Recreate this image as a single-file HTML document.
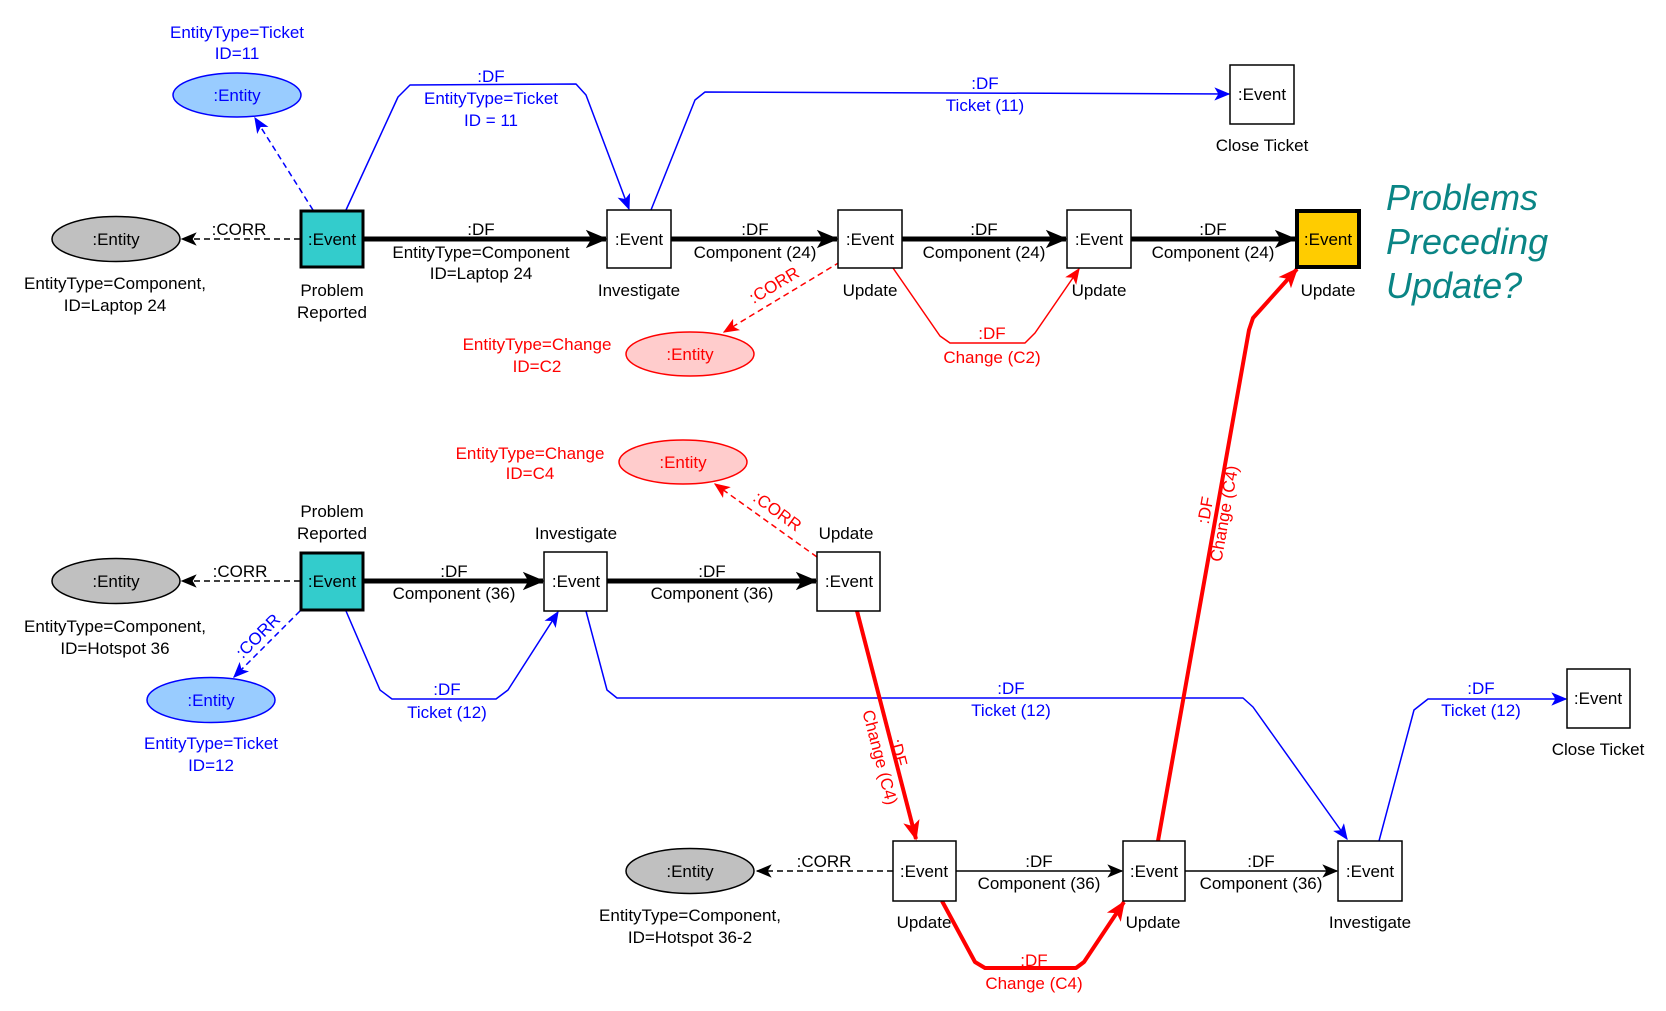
<!DOCTYPE html>
<html><head><meta charset="utf-8"><style>
html,body{margin:0;padding:0;background:#fff;}
svg{display:block;}
text{font-family:"Liberation Sans",Arial,sans-serif;font-size:17px;text-anchor:middle;}
.b{fill:#00f}.r{fill:#f00}.k{fill:#000}
</style></head><body>
<svg width="1666" height="1011" viewBox="0 0 1666 1011" xmlns="http://www.w3.org/2000/svg">
<defs>
<marker id="ak" viewBox="0 0 12 10" refX="11" refY="5" markerWidth="22" markerHeight="20" markerUnits="userSpaceOnUse" orient="auto"><path d="M0,0L12,5L0,10L3,5z" fill="#000"/></marker>
<marker id="aks" viewBox="0 0 12 10" refX="11" refY="5" markerWidth="16" markerHeight="14" markerUnits="userSpaceOnUse" orient="auto"><path d="M0,0L12,5L0,10L3,5z" fill="#000"/></marker>
<marker id="ab" viewBox="0 0 12 10" refX="11" refY="5" markerWidth="16" markerHeight="14" markerUnits="userSpaceOnUse" orient="auto"><path d="M0,0L12,5L0,10L3,5z" fill="#00f"/></marker>
<marker id="ar" viewBox="0 0 12 10" refX="11" refY="5" markerWidth="16" markerHeight="14" markerUnits="userSpaceOnUse" orient="auto"><path d="M0,0L12,5L0,10L3,5z" fill="#f00"/></marker>
<marker id="arb" viewBox="0 0 12 10" refX="11" refY="5" markerWidth="20" markerHeight="18" markerUnits="userSpaceOnUse" orient="auto"><path d="M0,0L12,5L0,10L3,5z" fill="#f00"/></marker>
</defs>

<!-- ===== Top row edges ===== -->
<!-- CORR gray 1 -->
<line x1="300" y1="239" x2="182" y2="239" stroke="#000" stroke-width="1.5" stroke-dasharray="6,4" marker-end="url(#aks)"/>
<text x="239" y="235">:CORR</text>
<!-- blue CORR dashed -->
<line x1="313" y1="210" x2="255" y2="118" stroke="#00f" stroke-width="1.5" stroke-dasharray="6,4" marker-end="url(#ab)"/>
<!-- blue DF ticket 11 -->
<polyline points="346,210 398,97 410,85 576,84 586,95 629,209" fill="none" stroke="#00f" stroke-width="1.5" stroke-linejoin="round" marker-end="url(#ab)"/>
<text class="b" x="491" y="82">:DF</text>
<text class="b" x="491" y="104">EntityType=Ticket</text>
<text class="b" x="491" y="126">ID = 11</text>
<!-- blue DF to close ticket -->
<polyline points="651,210 695,100 705,92 1229,94" fill="none" stroke="#00f" stroke-width="1.5" stroke-linejoin="round" marker-end="url(#ab)"/>
<text class="b" x="985" y="89">:DF</text>
<text class="b" x="985" y="111">Ticket (11)</text>
<!-- black DF top -->
<line x1="364" y1="239" x2="606" y2="239" stroke="#000" stroke-width="5" marker-end="url(#ak)"/>
<text x="481" y="235">:DF</text>
<text x="481" y="258">EntityType=Component</text>
<text x="481" y="279">ID=Laptop 24</text>
<line x1="671" y1="239" x2="837" y2="239" stroke="#000" stroke-width="5" marker-end="url(#ak)"/>
<text x="755" y="235">:DF</text>
<text x="755" y="258">Component (24)</text>
<line x1="902" y1="239" x2="1066" y2="239" stroke="#000" stroke-width="5" marker-end="url(#ak)"/>
<text x="984" y="235">:DF</text>
<text x="984" y="258">Component (24)</text>
<line x1="1131" y1="239" x2="1295" y2="239" stroke="#000" stroke-width="5" marker-end="url(#ak)"/>
<text x="1213" y="235">:DF</text>
<text x="1213" y="258">Component (24)</text>
<!-- red CORR C2 -->
<line x1="840" y1="262" x2="724" y2="332" stroke="#f00" stroke-width="1.5" stroke-dasharray="6,4" marker-end="url(#ar)"/>
<text class="r" transform="translate(777,290) rotate(-31)" x="0" y="0">:CORR</text>
<!-- red DF C2 -->
<polyline points="893,268 940,336 950,343 1025,343 1035,333 1079,269" fill="none" stroke="#f00" stroke-width="1.5" stroke-linejoin="round" marker-end="url(#ar)"/>
<text class="r" x="992" y="339">:DF</text>
<text class="r" x="992" y="363">Change (C2)</text>

<!-- ===== Middle row edges ===== -->
<line x1="300" y1="581" x2="182" y2="581" stroke="#000" stroke-width="1.5" stroke-dasharray="6,4" marker-end="url(#aks)"/>
<text x="240" y="577">:CORR</text>
<line x1="300" y1="611" x2="234" y2="677" stroke="#00f" stroke-width="1.5" stroke-dasharray="6,4" marker-end="url(#ab)"/>
<text class="b" transform="translate(262,640) rotate(-45)" x="0" y="0">:CORR</text>
<line x1="364" y1="581" x2="543" y2="581" stroke="#000" stroke-width="5" marker-end="url(#ak)"/>
<text x="454" y="577">:DF</text>
<text x="454" y="599">Component (36)</text>
<line x1="607" y1="581" x2="816" y2="581" stroke="#000" stroke-width="5" marker-end="url(#ak)"/>
<text x="712" y="577">:DF</text>
<text x="712" y="599">Component (36)</text>
<!-- blue ticket 12 short -->
<polyline points="346,611 380,690 392,699 496,699 508,690 558,612" fill="none" stroke="#00f" stroke-width="1.5" stroke-linejoin="round" marker-end="url(#ab)"/>
<text class="b" x="447" y="695">:DF</text>
<text class="b" x="447" y="718">Ticket (12)</text>
<!-- blue ticket 12 long -->
<polyline points="586,611 607,690 617,698 1243,698 1253,707 1347,839" fill="none" stroke="#00f" stroke-width="1.5" stroke-linejoin="round" marker-end="url(#ab)"/>
<text class="b" x="1011" y="694">:DF</text>
<text class="b" x="1011" y="716">Ticket (12)</text>
<!-- blue to close ticket 2 -->
<polyline points="1379,841 1414,710 1428,699 1566,699" fill="none" stroke="#00f" stroke-width="1.5" stroke-linejoin="round" marker-end="url(#ab)"/>
<text class="b" x="1481" y="694">:DF</text>
<text class="b" x="1481" y="716">Ticket (12)</text>
<!-- red CORR C4 -->
<line x1="817" y1="557" x2="715" y2="484" stroke="#f00" stroke-width="1.5" stroke-dasharray="6,4" marker-end="url(#ar)"/>
<text class="r" transform="translate(774,516) rotate(36)" x="0" y="0">:CORR</text>
<!-- red thick C4 down -->
<line x1="857" y1="611" x2="916" y2="839" stroke="#f00" stroke-width="4" marker-end="url(#arb)"/>
<g transform="translate(889,755) rotate(75.5)"><text class="r" x="0" y="-4">:DF</text><text class="r" x="0" y="15">Change (C4)</text></g>

<!-- ===== Bottom row edges ===== -->
<line x1="893" y1="871" x2="757" y2="871" stroke="#000" stroke-width="1.5" stroke-dasharray="6,4" marker-end="url(#aks)"/>
<text x="824" y="867">:CORR</text>
<line x1="956" y1="871" x2="1122" y2="871" stroke="#000" stroke-width="1.5" marker-end="url(#aks)"/>
<text x="1039" y="867">:DF</text>
<text x="1039" y="889">Component (36)</text>
<line x1="1185" y1="871" x2="1337" y2="871" stroke="#000" stroke-width="1.5" marker-end="url(#aks)"/>
<text x="1261" y="867">:DF</text>
<text x="1261" y="889">Component (36)</text>
<polyline points="942,901 975,962 985,968 1076,968 1084,962 1124,902" fill="none" stroke="#f00" stroke-width="4" stroke-linejoin="round" marker-end="url(#arb)"/>
<text class="r" x="1034" y="966">:DF</text>
<text class="r" x="1034" y="989">Change (C4)</text>
<!-- red thick long up -->
<polyline points="1158,841 1249,330 1253,318 1297,269" fill="none" stroke="#f00" stroke-width="4" stroke-linejoin="round" marker-end="url(#arb)"/>
<g transform="translate(1215,512) rotate(-80)"><text class="r" x="0" y="-4">:DF</text><text class="r" x="0" y="15">Change (C4)</text></g>

<!-- ===== Nodes ===== -->
<ellipse cx="116" cy="239" rx="64" ry="22.5" fill="#c0c0c0" stroke="#000" stroke-width="1.5"/>
<text x="116" y="245">:Entity</text>
<text x="115" y="289">EntityType=Component,</text>
<text x="115" y="311">ID=Laptop 24</text>

<ellipse cx="237" cy="95" rx="64" ry="22" fill="#99ccff" stroke="#00f" stroke-width="1.5"/>
<text class="b" x="237" y="101">:Entity</text>
<text class="b" x="237" y="38">EntityType=Ticket</text>
<text class="b" x="237" y="59">ID=11</text>

<rect x="301" y="211" width="62" height="56" fill="#33cccc" stroke="#000" stroke-width="3"/>
<text x="332" y="245">:Event</text>
<text x="332" y="296">Problem</text>
<text x="332" y="318">Reported</text>

<rect x="607" y="210" width="64" height="58" fill="#fff" stroke="#000" stroke-width="1.5"/>
<text x="639" y="245">:Event</text>
<text x="639" y="296">Investigate</text>

<rect x="838" y="210" width="64" height="58" fill="#fff" stroke="#000" stroke-width="1.5"/>
<text x="870" y="245">:Event</text>
<text x="870" y="296">Update</text>

<rect x="1067" y="210" width="64" height="58" fill="#fff" stroke="#000" stroke-width="1.5"/>
<text x="1099" y="245">:Event</text>
<text x="1099" y="296">Update</text>

<rect x="1297" y="211" width="62" height="56" fill="#ffcc00" stroke="#000" stroke-width="4"/>
<text x="1328" y="245">:Event</text>
<text x="1328" y="296">Update</text>

<rect x="1230" y="65" width="64" height="59" fill="#fff" stroke="#000" stroke-width="1.5"/>
<text x="1262" y="100">:Event</text>
<text x="1262" y="151">Close Ticket</text>

<ellipse cx="690" cy="354" rx="64" ry="22" fill="#ffcccc" stroke="#f00" stroke-width="1.5"/>
<text class="r" x="690" y="360">:Entity</text>
<text class="r" x="537" y="350">EntityType=Change</text>
<text class="r" x="537" y="372">ID=C2</text>

<ellipse cx="683" cy="462" rx="64" ry="22" fill="#ffcccc" stroke="#f00" stroke-width="1.5"/>
<text class="r" x="683" y="468">:Entity</text>
<text class="r" x="530" y="459">EntityType=Change</text>
<text class="r" x="530" y="479">ID=C4</text>

<text style="font-size:36px;font-style:italic;text-anchor:start;fill:#0a8585" x="1386" y="210">Problems</text>
<text style="font-size:36px;font-style:italic;text-anchor:start;fill:#0a8585" x="1386" y="254">Preceding</text>
<text style="font-size:36px;font-style:italic;text-anchor:start;fill:#0a8585" x="1386" y="298">Update?</text>

<!-- middle row nodes -->
<ellipse cx="116" cy="581" rx="64" ry="22.5" fill="#c0c0c0" stroke="#000" stroke-width="1.5"/>
<text x="116" y="587">:Entity</text>
<text x="115" y="632">EntityType=Component,</text>
<text x="115" y="654">ID=Hotspot 36</text>

<rect x="301" y="553" width="62" height="57" fill="#33cccc" stroke="#000" stroke-width="3"/>
<text x="332" y="587">:Event</text>
<text x="332" y="517">Problem</text>
<text x="332" y="539">Reported</text>

<rect x="544" y="552" width="63" height="59" fill="#fff" stroke="#000" stroke-width="1.5"/>
<text x="576" y="587">:Event</text>
<text x="576" y="539">Investigate</text>

<rect x="817" y="552" width="63" height="59" fill="#fff" stroke="#000" stroke-width="1.5"/>
<text x="849" y="587">:Event</text>
<text x="846" y="539">Update</text>

<ellipse cx="211" cy="700" rx="64" ry="22.5" fill="#99ccff" stroke="#00f" stroke-width="1.5"/>
<text class="b" x="211" y="706">:Entity</text>
<text class="b" x="211" y="749">EntityType=Ticket</text>
<text class="b" x="211" y="771">ID=12</text>

<rect x="1567" y="669" width="63" height="59" fill="#fff" stroke="#000" stroke-width="1.5"/>
<text x="1598" y="704">:Event</text>
<text x="1598" y="755">Close Ticket</text>

<!-- bottom row nodes -->
<ellipse cx="690" cy="871" rx="64" ry="22.5" fill="#c0c0c0" stroke="#000" stroke-width="1.5"/>
<text x="690" y="877">:Entity</text>
<text x="690" y="921">EntityType=Component,</text>
<text x="690" y="943">ID=Hotspot 36-2</text>

<rect x="893" y="841" width="63" height="60" fill="#fff" stroke="#000" stroke-width="1.5"/>
<text x="924" y="877">:Event</text>
<text x="924" y="928">Update</text>

<rect x="1123" y="841" width="62" height="60" fill="#fff" stroke="#000" stroke-width="1.5"/>
<text x="1154" y="877">:Event</text>
<text x="1153" y="928">Update</text>

<rect x="1338" y="841" width="64" height="60" fill="#fff" stroke="#000" stroke-width="1.5"/>
<text x="1370" y="877">:Event</text>
<text x="1370" y="928">Investigate</text>
</svg>
</body></html>
